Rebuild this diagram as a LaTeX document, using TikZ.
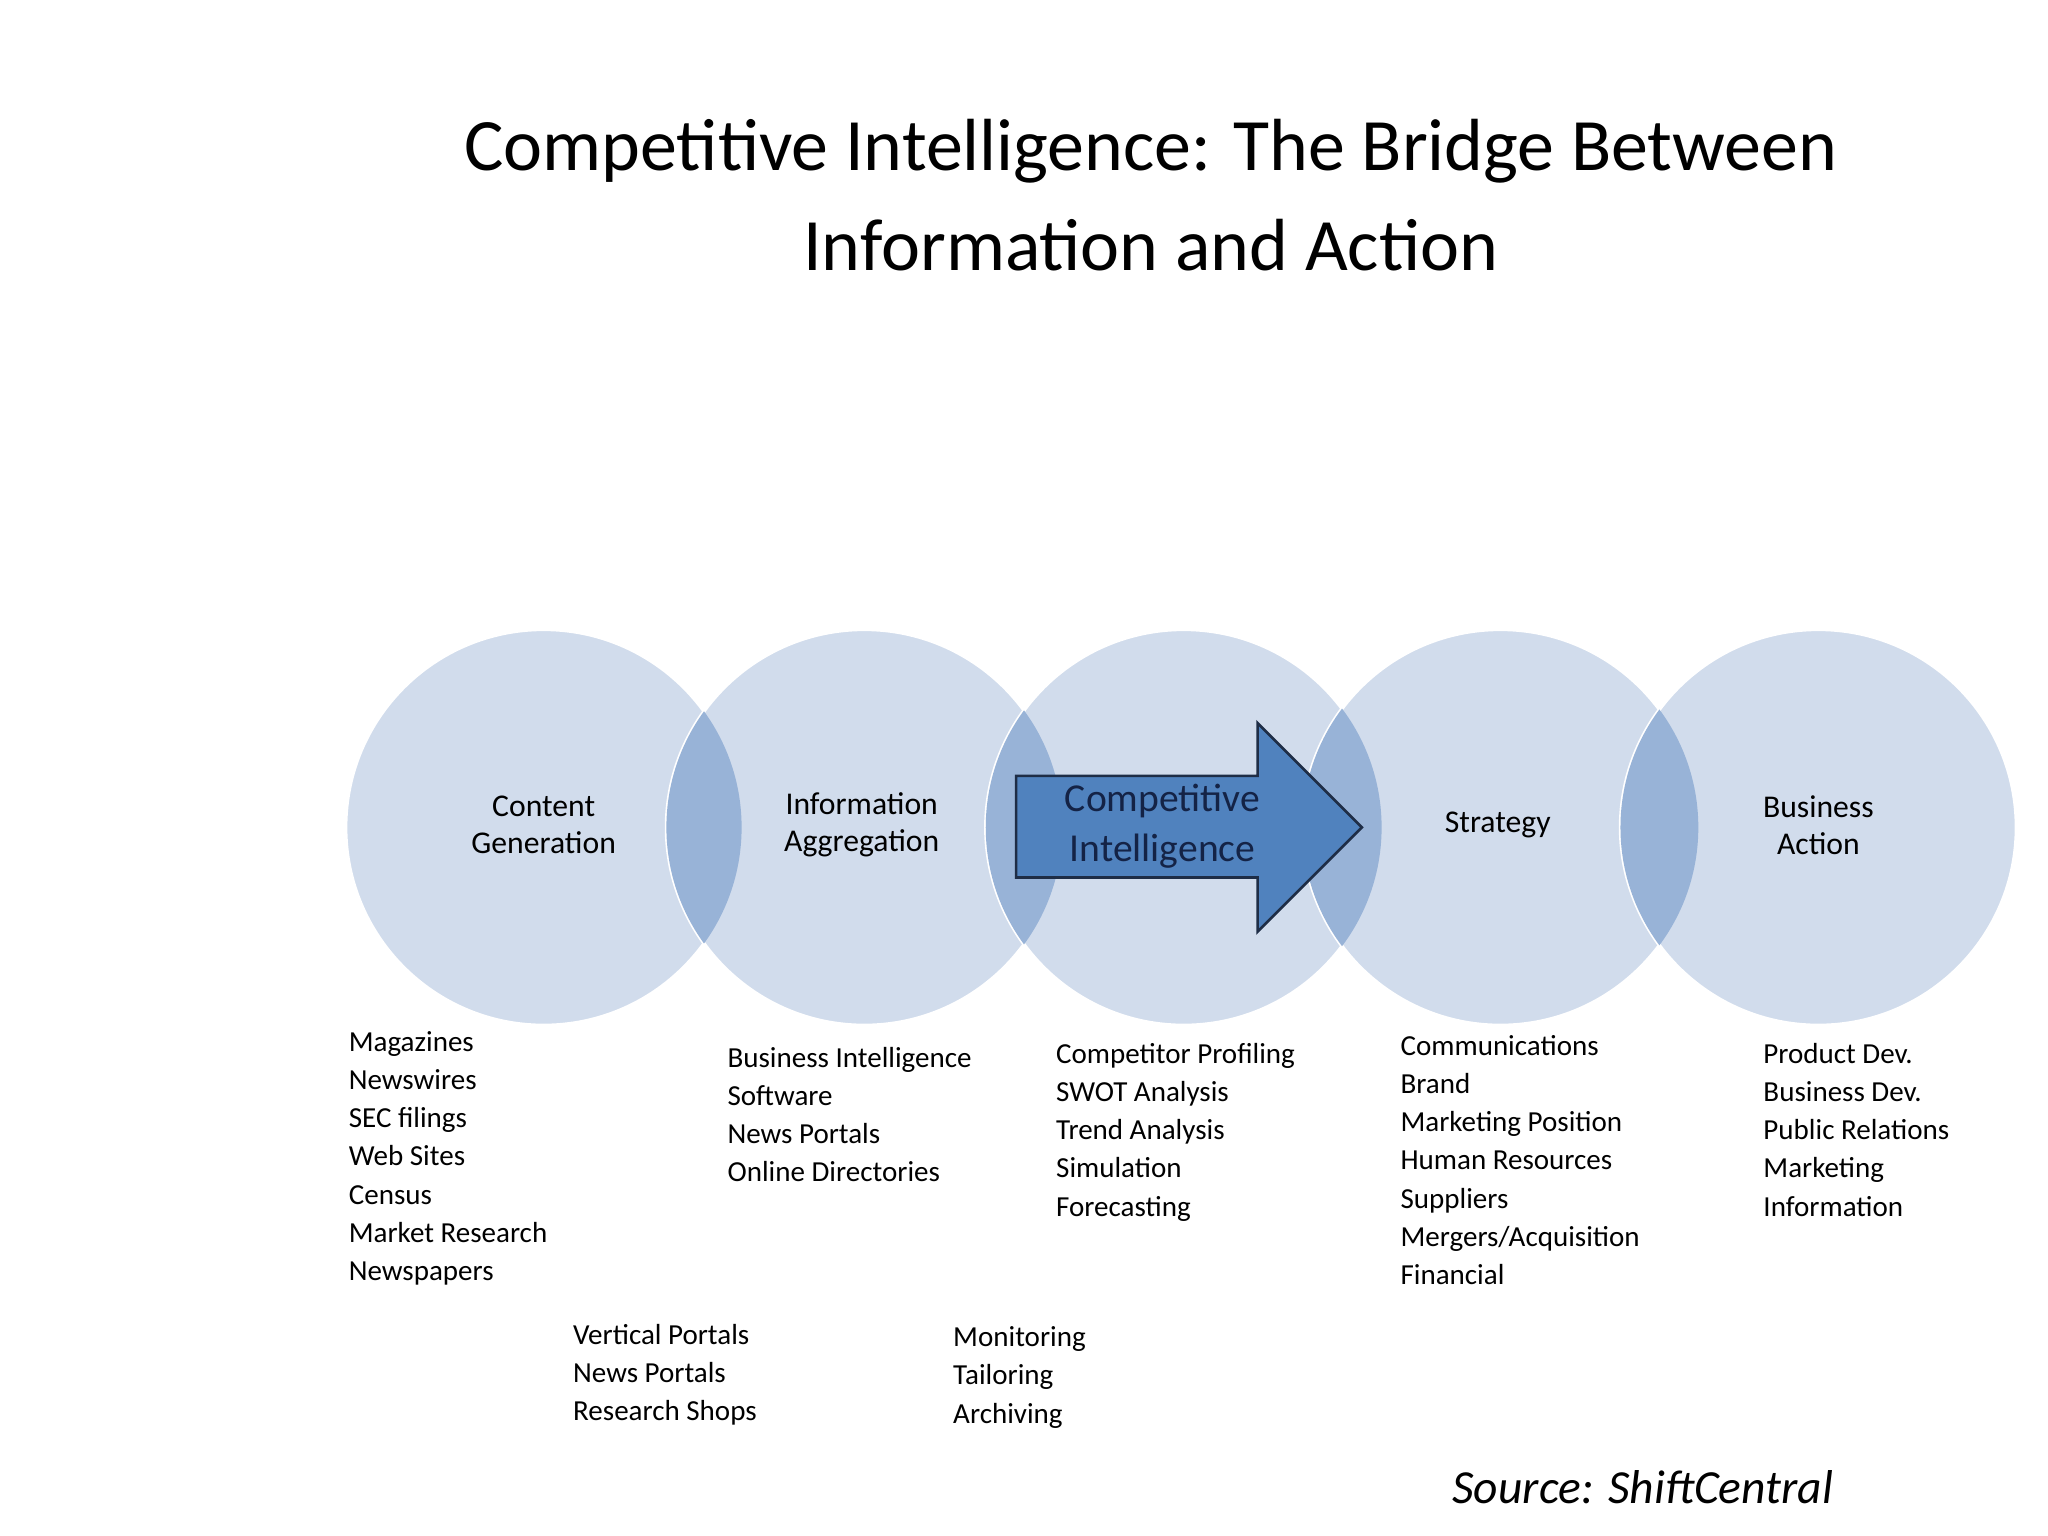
\documentclass[tikz,border=0pt]{standalone}
\usepackage{fontspec}
\setmainfont{Carlito}
\definecolor{ringfill}{RGB}{209,220,236}
\definecolor{lensfill}{RGB}{152,179,215}
\definecolor{arrowfill}{RGB}{80,130,190}
\definecolor{arrowline}{RGB}{30,45,70}
\definecolor{arrowtext}{RGB}{20,35,70}
\tikzset{every picture/.style={line width=0.75pt}}
\tikzset{
  ring/.style={circle, minimum size=300pt, fill=ringfill, draw=white, line width=2.5pt, inner sep=0pt},
  ringlabel/.style={align=center, font=\fontsize{24}{28}\selectfont},
  listtext/.style={anchor=north west, align=left, inner sep=0pt, font=\fontsize{22}{29}\selectfont}
}
\begin{document}
\begin{tikzpicture}[x=1pt,y=1pt,yscale=-1,xscale=1]
        \useasboundingbox (0,0) rectangle (1552,1164);

        % Title
        \node (title) [align=center, font=\fontsize{56}{76}\selectfont] at (872,148) {Competitive Intelligence: The Bridge Between\\Information and Action};

        % Circles
        \node (content) [ring] at (412,627) {};
        \node (aggreg) [ring] at (655,627) {};
        \node (compint) [ring] at (897,627) {};
        \node (strategy) [ring] at (1137,627) {};
        \node (action) [ring] at (1378,627) {};

        % Lenses
        \foreach \a/\b in {412/655,655/897,897/1137,1137/1378} {
          \begin{scope}
            \clip (\a,627) circle (150);
            \fill [lensfill] (\b,627) circle (150);
          \end{scope}
        }

        % Arrow
        \draw [fill=arrowfill, draw=arrowline, line width=2pt] (770,588) -- (953,588) -- (953,548) -- (1032,627) -- (953,706) -- (953,665) -- (770,665) -- cycle;

        % Circle labels
        \node [ringlabel] at (412,625) {Content\\Generation};
        \node [ringlabel] at (653,625) {Information\\Aggregation};
        \node [ringlabel, font=\fontsize{30}{38}\selectfont, text=arrowtext] at (881,626) {Competitive\\Intelligence};
        \node [ringlabel] at (1135,625) {Strategy};
        \node [ringlabel] at (1378,625) {Business\\Action};

        % Lists
        \node (list1) [listtext] at (264,781) {Magazines\\Newswires\\SEC filings\\Web Sites\\Census\\Market Research\\Newspapers};
        \node (list2) [listtext] at (551,793) {Business Intelligence\\Software\\News Portals\\Online Directories};
        \node (list3) [listtext] at (800,790) {Competitor Profiling\\SWOT Analysis\\Trend Analysis\\Simulation\\Forecasting};
        \node (list4) [listtext] at (1061,784) {Communications\\Brand\\Marketing Position\\Human Resources\\Suppliers\\Mergers/Acquisition\\Financial};
        \node (list5) [listtext] at (1336,790) {Product Dev.\\Business Dev.\\Public Relations\\Marketing\\Information};
        \node (list6) [listtext] at (434,1003) {Vertical Portals\\News Portals\\Research Shops};
        \node (list7) [listtext] at (722,1005) {Monitoring\\Tailoring\\Archiving};

        % Source
        \node (source) [font=\fontsize{36}{40}\selectfont\itshape, anchor=west] at (1097,1127) {Source: ShiftCentral};

\end{tikzpicture}
\end{document}
